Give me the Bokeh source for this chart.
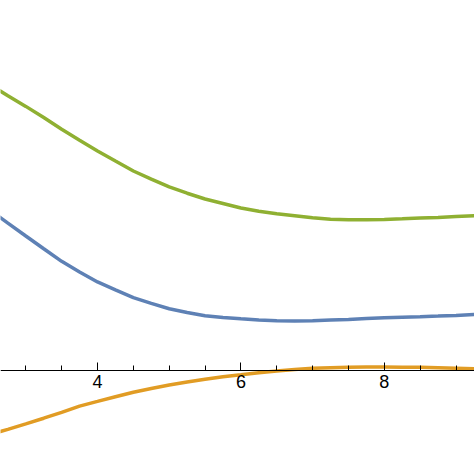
from bokeh.plotting import figure
from bokeh.models import Range1d, LinearAxis, SingleIntervalTicker
from bokeh.embed import file_html
from bokeh.resources import INLINE

x = [2.6, 2.75, 3.0, 3.25, 3.5, 3.75, 4.0, 4.25, 4.5, 4.75, 5.0, 5.25, 5.5, 5.75,
     6.0, 6.25, 6.5, 6.75, 7.0, 7.25, 7.5, 7.75, 8.0, 8.25, 8.5, 8.75, 9.0, 9.25, 9.3]
green = [3.919, 3.826, 3.678, 3.522, 3.358, 3.206, 3.056, 2.916, 2.777, 2.664, 2.555,
         2.467, 2.386, 2.324, 2.261, 2.216, 2.180, 2.152, 2.124, 2.103, 2.096, 2.096,
         2.102, 2.110, 2.120, 2.130, 2.141, 2.152, 2.153]
blue = [2.159, 2.050, 1.870, 1.693, 1.517, 1.368, 1.230, 1.119, 1.010, 0.930, 0.855,
        0.803, 0.759, 0.734, 0.715, 0.699, 0.688, 0.685, 0.689, 0.699, 0.707, 0.718,
        0.729, 0.738, 0.745, 0.753, 0.763, 0.774, 0.775]
orange = [-0.870, -0.826, -0.749, -0.671, -0.589, -0.502, -0.437, -0.371, -0.310, -0.257,
          -0.209, -0.165, -0.127, -0.092, -0.066, -0.038, -0.013, 0.008, 0.025, 0.033,
          0.039, 0.042, 0.042, 0.040, 0.038, 0.032, 0.025, 0.018, 0.017]

p = figure(width=474, height=474, output_backend="svg", toolbar_location=None,
           x_range=Range1d(2.6471, 9.2580), y_range=Range1d(-1.4561, 5.1548),
           x_axis_location=None, y_axis_location=None, min_border=0)
p.outline_line_color = None
p.xgrid.visible = False
p.ygrid.visible = False

axis = LinearAxis(fixed_location=0, ticker=SingleIntervalTicker(interval=2, num_minor_ticks=4))
axis.axis_line_color = "black"
axis.axis_line_width = 1
axis.major_tick_in = 8
axis.major_tick_out = 0
axis.minor_tick_in = 5
axis.minor_tick_out = 0
axis.major_tick_line_color = "black"
axis.minor_tick_line_color = "black"
axis.major_label_text_font = "Liberation Sans"
axis.major_label_text_font_size = "18px"
axis.major_label_text_color = "black"
axis.major_label_standoff = 5
p.add_layout(axis, "below")

p.line(x, blue, line_color="#5E81B5", line_width=3.5)
p.line(x, orange, line_color="#E19C24", line_width=3.5)
p.line(x, green, line_color="#8FB032", line_width=3.5)

open("out.html", "w").write(file_html(p, INLINE))
